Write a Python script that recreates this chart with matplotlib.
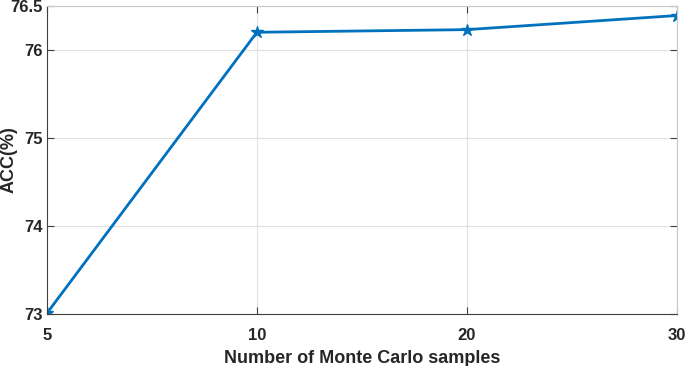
import numpy as np
import matplotlib.pyplot as plt

plt.rcParams['font.family'] = ['Liberation Sans', 'DejaVu Sans']

samples = ['5', '10', '20', '30']
acc = [73.01, 76.20, 76.23, 76.39]
yticks = [73, 74, 75, 76, 76.5]
ytick_labels = ['73', '74', '75', '76', '76.5']

fig = plt.figure(figsize=(6.85, 3.66), dpi=100)
ax = fig.add_axes([0.0686, 0.142, 0.9194, 0.842])

x = np.arange(len(samples))
ax.plot(x, acc, color='#0072BD', linewidth=2, marker='*', markersize=9)

ax.set_xlim(0, len(samples) - 1)
ax.set_ylim(73, 76.5)
ax.set_xticks(x)
ax.set_xticklabels(samples)
ax.set_yticks(yticks)
ax.set_yticklabels(ytick_labels)

ax.grid(True, color='#e0e0e0', linewidth=0.8)
ax.set_axisbelow(True)
ax.tick_params(direction='in', top=True, right=True, length=5, width=0.8,
               color='#404040', labelsize=12, pad=3)
ax.tick_params(axis='x', pad=10)
for lbl in ax.get_xticklabels() + ax.get_yticklabels():
    lbl.set_fontweight('bold')
    lbl.set_color('#262626')
for sp in ax.spines.values():
    sp.set_color('#404040')
    sp.set_linewidth(0.8)
ax.spines['top'].set_color('#c8c8c8')
ax.spines['right'].set_color('#c8c8c8')

ax.set_xlabel('Number of Monte Carlo samples', fontsize=13, fontweight='bold',
              color='#262626', labelpad=5)
ax.set_ylabel('ACC(%)', fontsize=13, fontweight='bold', color='#262626')
ax.yaxis.set_label_coords(-0.047, 0.5)

fig.savefig('out.png', dpi=100)
